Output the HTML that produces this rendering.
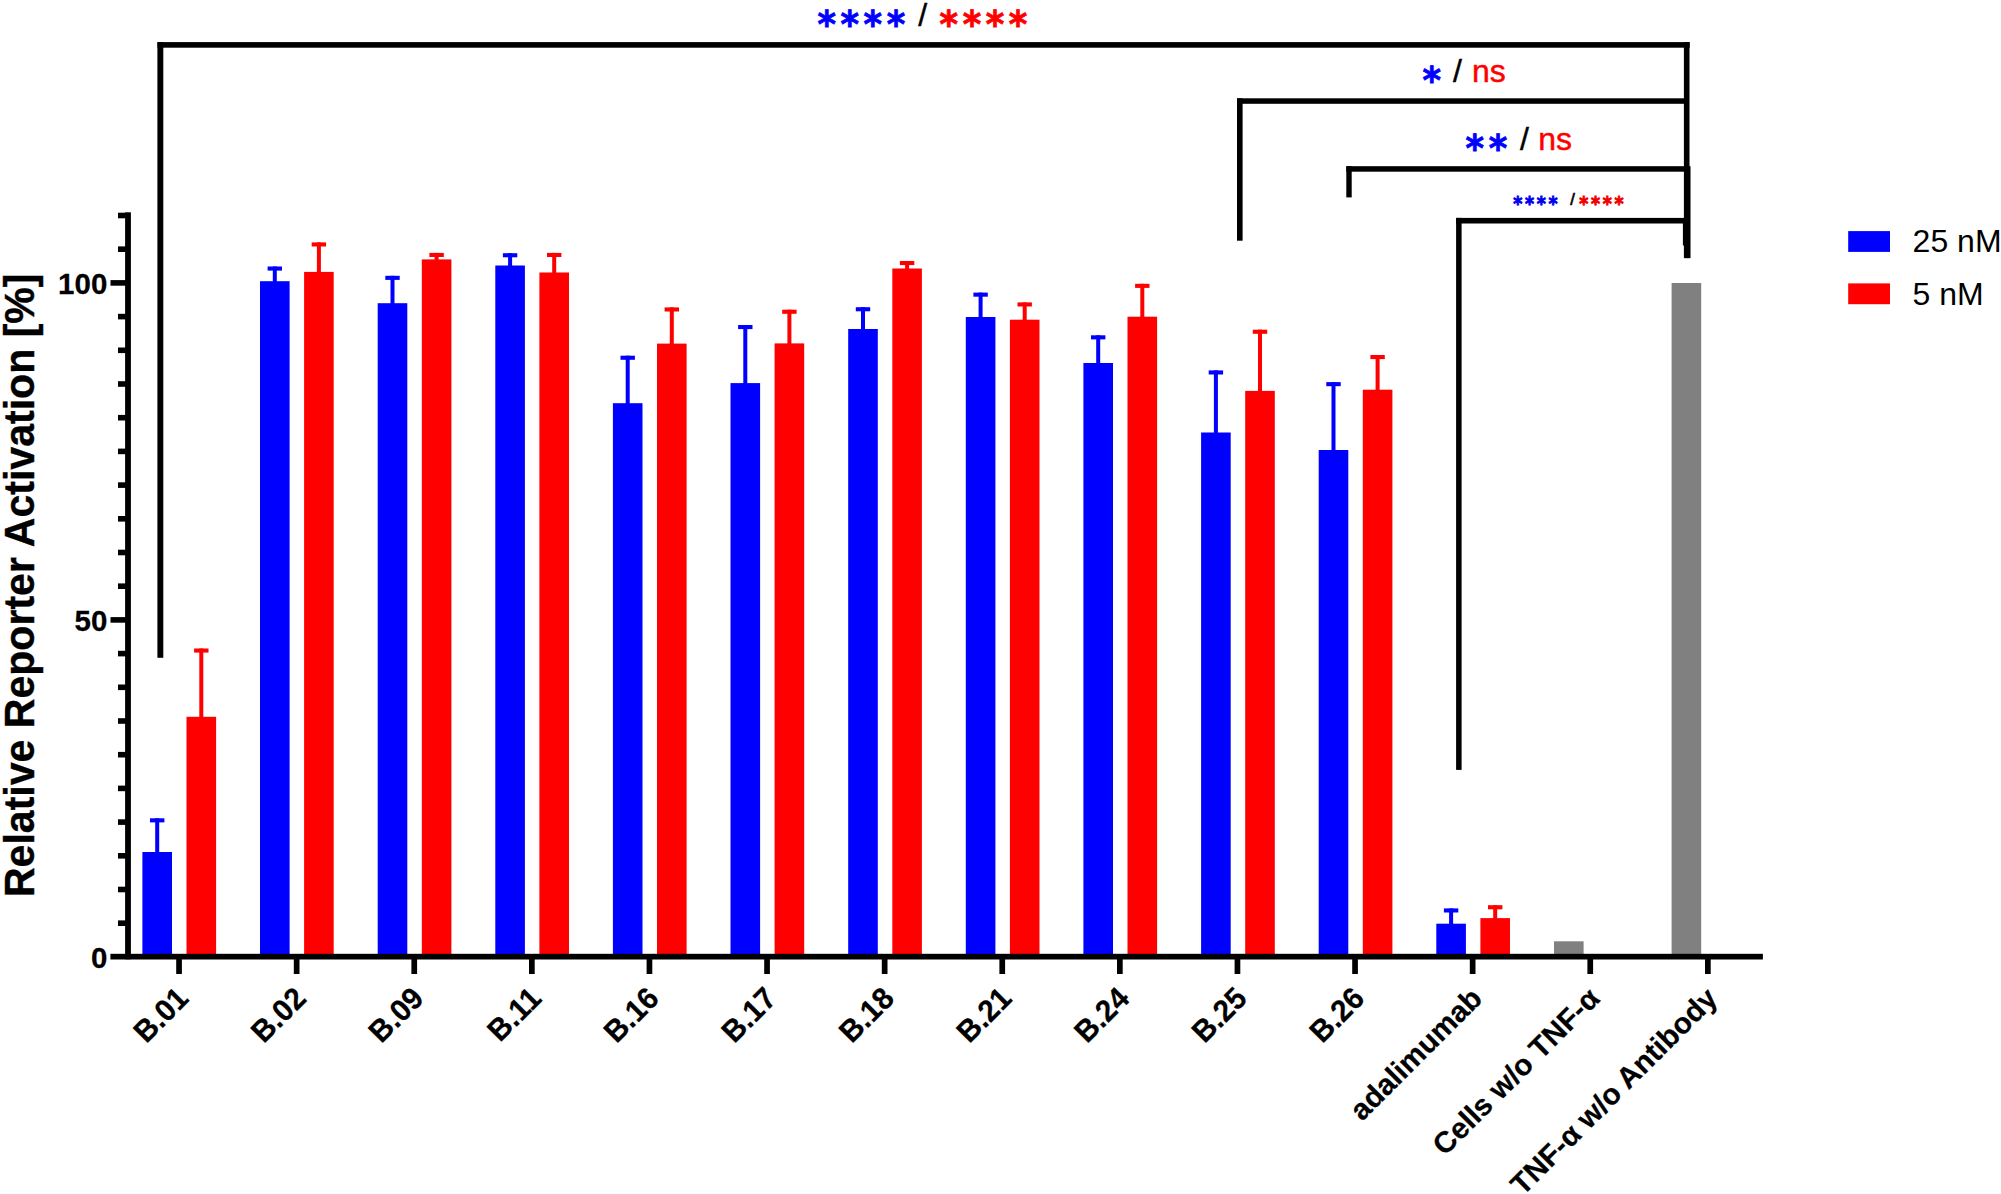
<!DOCTYPE html>
<html lang="en"><head><meta charset="utf-8"><title>Relative Reporter Activation</title>
<style>html,body{margin:0;padding:0;background:#fff;}body{width:2001px;height:1194px;overflow:hidden;}svg{display:block;}text{font-family:"Liberation Sans",sans-serif;}.b{font-weight:bold;}.st{font-family:"DejaVu Sans","Liberation Sans",sans-serif;}</style></head><body>
<svg width="2001" height="1194" viewBox="0 0 2001 1194">
<rect x="0" y="0" width="2001" height="1194" fill="#fff"/>
<rect x="142.4" y="852.0" width="29.6" height="102.6" fill="#0000ff"/>
<rect x="155.2" y="818.3" width="4" height="34.7" fill="#0000ff"/>
<rect x="150.0" y="818.3" width="14.4" height="4.1" fill="#0000ff"/>
<rect x="186.5" y="716.8" width="29.6" height="237.8" fill="#ff0000"/>
<rect x="199.3" y="648.5" width="4" height="69.3" fill="#ff0000"/>
<rect x="194.1" y="648.5" width="14.4" height="4.1" fill="#ff0000"/>
<rect x="260.0" y="281.2" width="29.6" height="673.4" fill="#0000ff"/>
<rect x="272.8" y="266.5" width="4" height="15.7" fill="#0000ff"/>
<rect x="267.6" y="266.5" width="14.4" height="4.1" fill="#0000ff"/>
<rect x="304.1" y="271.9" width="29.6" height="682.7" fill="#ff0000"/>
<rect x="316.9" y="242.4" width="4" height="30.5" fill="#ff0000"/>
<rect x="311.7" y="242.4" width="14.4" height="4.1" fill="#ff0000"/>
<rect x="377.7" y="303.2" width="29.6" height="651.4" fill="#0000ff"/>
<rect x="390.5" y="275.8" width="4" height="28.4" fill="#0000ff"/>
<rect x="385.3" y="275.8" width="14.4" height="4.1" fill="#0000ff"/>
<rect x="421.8" y="259.4" width="29.6" height="695.2" fill="#ff0000"/>
<rect x="434.6" y="252.9" width="4" height="7.5" fill="#ff0000"/>
<rect x="429.4" y="252.9" width="14.4" height="4.1" fill="#ff0000"/>
<rect x="495.3" y="265.5" width="29.6" height="689.1" fill="#0000ff"/>
<rect x="508.1" y="253.2" width="4" height="13.3" fill="#0000ff"/>
<rect x="502.9" y="253.2" width="14.4" height="4.1" fill="#0000ff"/>
<rect x="539.4" y="272.5" width="29.6" height="682.1" fill="#ff0000"/>
<rect x="552.2" y="252.9" width="4" height="20.6" fill="#ff0000"/>
<rect x="547.0" y="252.9" width="14.4" height="4.1" fill="#ff0000"/>
<rect x="612.9" y="403.2" width="29.6" height="551.4" fill="#0000ff"/>
<rect x="625.7" y="355.7" width="4" height="48.5" fill="#0000ff"/>
<rect x="620.5" y="355.7" width="14.4" height="4.1" fill="#0000ff"/>
<rect x="657.0" y="343.6" width="29.6" height="611.0" fill="#ff0000"/>
<rect x="669.8" y="307.4" width="4" height="37.2" fill="#ff0000"/>
<rect x="664.6" y="307.4" width="14.4" height="4.1" fill="#ff0000"/>
<rect x="730.5" y="383.1" width="29.6" height="571.5" fill="#0000ff"/>
<rect x="743.3" y="325.0" width="4" height="59.1" fill="#0000ff"/>
<rect x="738.1" y="325.0" width="14.4" height="4.1" fill="#0000ff"/>
<rect x="774.6" y="343.4" width="29.6" height="611.2" fill="#ff0000"/>
<rect x="787.4" y="309.7" width="4" height="34.7" fill="#ff0000"/>
<rect x="782.2" y="309.7" width="14.4" height="4.1" fill="#ff0000"/>
<rect x="848.2" y="329.0" width="29.6" height="625.6" fill="#0000ff"/>
<rect x="861.0" y="307.2" width="4" height="22.8" fill="#0000ff"/>
<rect x="855.8" y="307.2" width="14.4" height="4.1" fill="#0000ff"/>
<rect x="892.3" y="268.5" width="29.6" height="686.1" fill="#ff0000"/>
<rect x="905.1" y="261.0" width="4" height="8.5" fill="#ff0000"/>
<rect x="899.9" y="261.0" width="14.4" height="4.1" fill="#ff0000"/>
<rect x="965.8" y="317.0" width="29.6" height="637.6" fill="#0000ff"/>
<rect x="978.6" y="292.6" width="4" height="25.4" fill="#0000ff"/>
<rect x="973.4" y="292.6" width="14.4" height="4.1" fill="#0000ff"/>
<rect x="1009.9" y="319.7" width="29.6" height="634.9" fill="#ff0000"/>
<rect x="1022.7" y="302.4" width="4" height="18.3" fill="#ff0000"/>
<rect x="1017.5" y="302.4" width="14.4" height="4.1" fill="#ff0000"/>
<rect x="1083.4" y="363.0" width="29.6" height="591.6" fill="#0000ff"/>
<rect x="1096.2" y="335.3" width="4" height="28.7" fill="#0000ff"/>
<rect x="1091.0" y="335.3" width="14.4" height="4.1" fill="#0000ff"/>
<rect x="1127.5" y="316.7" width="29.6" height="637.9" fill="#ff0000"/>
<rect x="1140.3" y="283.8" width="4" height="33.9" fill="#ff0000"/>
<rect x="1135.1" y="283.8" width="14.4" height="4.1" fill="#ff0000"/>
<rect x="1201.1" y="432.5" width="29.6" height="522.1" fill="#0000ff"/>
<rect x="1213.9" y="370.4" width="4" height="63.1" fill="#0000ff"/>
<rect x="1208.7" y="370.4" width="14.4" height="4.1" fill="#0000ff"/>
<rect x="1245.2" y="390.9" width="29.6" height="563.7" fill="#ff0000"/>
<rect x="1258.0" y="329.7" width="4" height="62.2" fill="#ff0000"/>
<rect x="1252.8" y="329.7" width="14.4" height="4.1" fill="#ff0000"/>
<rect x="1318.7" y="450.0" width="29.6" height="504.6" fill="#0000ff"/>
<rect x="1331.5" y="382.1" width="4" height="68.9" fill="#0000ff"/>
<rect x="1326.3" y="382.1" width="14.4" height="4.1" fill="#0000ff"/>
<rect x="1362.8" y="389.7" width="29.6" height="564.9" fill="#ff0000"/>
<rect x="1375.6" y="355.0" width="4" height="35.7" fill="#ff0000"/>
<rect x="1370.4" y="355.0" width="14.4" height="4.1" fill="#ff0000"/>
<rect x="1436.3" y="923.7" width="29.6" height="30.9" fill="#0000ff"/>
<rect x="1449.1" y="908.4" width="4" height="16.3" fill="#0000ff"/>
<rect x="1443.9" y="908.4" width="14.4" height="4.1" fill="#0000ff"/>
<rect x="1480.4" y="918.1" width="29.6" height="36.5" fill="#ff0000"/>
<rect x="1493.2" y="905.2" width="4" height="13.9" fill="#ff0000"/>
<rect x="1488.0" y="905.2" width="14.4" height="4.1" fill="#ff0000"/>
<rect x="1554.0" y="941.3" width="29.6" height="13.3" fill="#808080"/>
<rect x="1671.6" y="283.0" width="29.6" height="671.6" fill="#808080"/>
<g fill="#000">
<rect x="125.1" y="212.3" width="5.8" height="747"/>
<rect x="110.4" y="953.8" width="1652.5" height="5.7"/>
<rect x="118" y="920.4" width="8" height="5.6"/>
<rect x="118" y="886.7" width="8" height="5.6"/>
<rect x="118" y="853.0" width="8" height="5.6"/>
<rect x="118" y="819.3" width="8" height="5.6"/>
<rect x="118" y="785.6" width="8" height="5.6"/>
<rect x="118" y="751.9" width="8" height="5.6"/>
<rect x="118" y="718.2" width="8" height="5.6"/>
<rect x="118" y="684.5" width="8" height="5.6"/>
<rect x="118" y="650.8" width="8" height="5.6"/>
<rect x="110.5" y="617.1" width="16" height="5.6"/>
<rect x="118" y="583.4" width="8" height="5.6"/>
<rect x="118" y="549.7" width="8" height="5.6"/>
<rect x="118" y="516.0" width="8" height="5.6"/>
<rect x="118" y="482.3" width="8" height="5.6"/>
<rect x="118" y="448.6" width="8" height="5.6"/>
<rect x="118" y="414.9" width="8" height="5.6"/>
<rect x="118" y="381.2" width="8" height="5.6"/>
<rect x="118" y="347.5" width="8" height="5.6"/>
<rect x="118" y="313.8" width="8" height="5.6"/>
<rect x="110.5" y="280.1" width="16" height="5.6"/>
<rect x="118" y="246.4" width="8" height="5.6"/>
<rect x="118" y="212.7" width="8" height="5.6"/>
<rect x="176.2" y="955" width="5.7" height="19"/>
<rect x="293.8" y="955" width="5.7" height="19"/>
<rect x="411.4" y="955" width="5.7" height="19"/>
<rect x="529.0" y="955" width="5.7" height="19"/>
<rect x="646.6" y="955" width="5.7" height="19"/>
<rect x="764.2" y="955" width="5.7" height="19"/>
<rect x="881.8" y="955" width="5.7" height="19"/>
<rect x="999.4" y="955" width="5.7" height="19"/>
<rect x="1117.0" y="955" width="5.7" height="19"/>
<rect x="1234.6" y="955" width="5.7" height="19"/>
<rect x="1352.2" y="955" width="5.7" height="19"/>
<rect x="1469.8" y="955" width="5.7" height="19"/>
<rect x="1587.4" y="955" width="5.7" height="19"/>
<rect x="1705.0" y="955" width="5.7" height="19"/>
<rect x="157.4" y="42.1" width="5.9" height="615.7"/>
<rect x="157.5" y="42.1" width="1532.2" height="5.6"/>
<rect x="1683.9" y="42.1" width="5.6" height="216"/>
<rect x="1685.0" y="166.2" width="5.5" height="91.9"/>
<rect x="1682.9" y="218" width="5.5" height="27.5"/>
<rect x="1237" y="98.3" width="5.6" height="142.4"/>
<rect x="1237" y="98.3" width="450" height="5.5"/>
<rect x="1346.3" y="166.2" width="5.4" height="31.2"/>
<rect x="1346.3" y="166.2" width="340" height="5.5"/>
<rect x="1456.1" y="217.9" width="5.5" height="552"/>
<rect x="1456.1" y="217.9" width="230" height="5.6"/>
</g>
<g class="b" font-size="29.5" text-anchor="end" fill="#000" stroke="#000" stroke-width="0.25">
<text transform="translate(107.3,294.0) scale(1,1.015)">100</text>
<text transform="translate(107.3,631.2) scale(1,1.015)">50</text>
<text transform="translate(107.3,968.1) scale(1,1.015)">0</text>
</g>
<text class="b" font-size="43" text-anchor="middle" stroke="#000" stroke-width="0.4" transform="translate(34.3,585.3) rotate(-90) scale(0.955,1)">Relative Reporter Activation [%]</text>
<g class="b" font-size="29.5" text-anchor="end" fill="#000" stroke="#000" stroke-width="0.25">
<text transform="translate(190.2,1000.2) rotate(-45) scale(1,1.04)">B.01</text>
<text transform="translate(307.8,1000.2) rotate(-45) scale(1,1.04)">B.02</text>
<text transform="translate(425.4,1000.2) rotate(-45) scale(1,1.04)">B.09</text>
<text transform="translate(543.0,1000.2) rotate(-45) scale(1,1.04)">B.11</text>
<text transform="translate(660.6,1000.2) rotate(-45) scale(1,1.04)">B.16</text>
<text transform="translate(778.2,1000.2) rotate(-45) scale(1,1.04)">B.17</text>
<text transform="translate(895.8,1000.2) rotate(-45) scale(1,1.04)">B.18</text>
<text transform="translate(1013.4,1000.2) rotate(-45) scale(1,1.04)">B.21</text>
<text transform="translate(1131.0,1000.2) rotate(-45) scale(1,1.04)">B.24</text>
<text transform="translate(1248.6,1000.2) rotate(-45) scale(1,1.04)">B.25</text>
<text transform="translate(1366.2,1000.2) rotate(-45) scale(1,1.04)">B.26</text>
<text transform="translate(1483.8,1000.2) rotate(-45)">adalimumab</text>
<text transform="translate(1601.4,1000.2) rotate(-45)">Cells w/o TNF-α</text>
<text transform="translate(1719.0,1000.2) rotate(-45)">TNF-α w/o Antibody</text>
</g>
<rect x="1848.2" y="231.1" width="41.8" height="20.8" fill="#0000ff"/>
<rect x="1848.2" y="283.4" width="41.8" height="20.8" fill="#ff0000"/>
<text x="1912.6" y="252.4" font-size="32">25 nM</text>
<text x="1912.6" y="304.7" font-size="32">5 nM</text>
<text class="st" transform="translate(817.49,37.26) scale(0.956,1)" font-size="37.0" font-weight="bold" letter-spacing="4.78" fill="#0000ff" stroke="#0000ff" stroke-width="0.80">****</text>
<text x="918.2" y="26.0" font-size="32.0" fill="#000" stroke="#000" stroke-width="0.45">/</text>
<text class="st" transform="translate(939.59,37.26) scale(0.956,1)" font-size="37.0" font-weight="bold" letter-spacing="4.78" fill="#ff0000" stroke="#ff0000" stroke-width="0.80">****</text>
<text class="st" transform="translate(1422.49,92.96) scale(0.956,1)" font-size="37.0" font-weight="bold" letter-spacing="4.78" fill="#0000ff" stroke="#0000ff" stroke-width="0.80">*</text>
<text x="1453.1" y="82.0" font-size="32.0" fill="#000" stroke="#000" stroke-width="0.45">/</text>
<text x="1471.9" y="81.8" font-size="32.0" fill="#ff0000" stroke="#ff0000" stroke-width="0.45">ns</text>
<text class="st" transform="translate(1465.59,160.66) scale(0.956,1)" font-size="37.0" font-weight="bold" letter-spacing="4.78" fill="#0000ff" stroke="#0000ff" stroke-width="0.80">**</text>
<text x="1519.9" y="149.9" font-size="32.0" fill="#000" stroke="#000" stroke-width="0.45">/</text>
<text x="1538.2" y="149.8" font-size="32.0" fill="#ff0000" stroke="#ff0000" stroke-width="0.45">ns</text>
<text class="st" transform="translate(1513.20,210.09) scale(0.927,1)" font-size="18.7" font-weight="bold" letter-spacing="2.92" fill="#0000f0" stroke="#0000f0" stroke-width="0.90">****</text>
<text x="1570.2" y="205.2" font-size="16.4" fill="#000" stroke="#000" stroke-width="0.70">/</text>
<text class="st" transform="translate(1579.20,210.09) scale(0.927,1)" font-size="18.7" font-weight="bold" letter-spacing="2.92" fill="#f00000" stroke="#f00000" stroke-width="0.90">****</text>
</svg></body></html>
